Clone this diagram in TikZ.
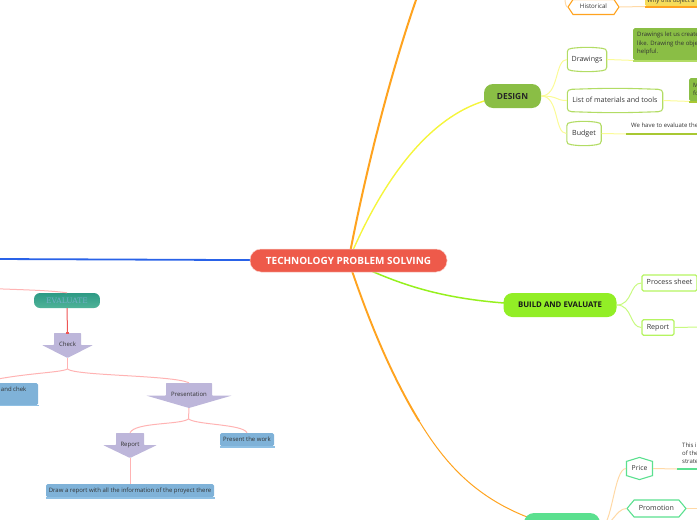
\documentclass[tikz,border=0pt]{standalone}
\usepackage{fontspec}
\setmainfont{Open Sans}
\newfontfamily\slabfont{DejaVu Serif}
\usetikzlibrary{calc,backgrounds,shapes.symbols}
\definecolor{rootred}{HTML}{EE5A4A}
\definecolor{rootedge}{HTML}{F9CFC8}
\definecolor{linkblue}{HTML}{2962E8}
\definecolor{linkorange}{HTML}{FFA31F}
\definecolor{linkyellow}{HTML}{F5F53C}
\definecolor{linkgreen}{HTML}{96F01E}
\definecolor{designfill}{HTML}{8ABE45}
\definecolor{buildfill}{HTML}{92EE26}
\definecolor{minty}{HTML}{5BE08F}
\definecolor{paleyellow}{HTML}{FBFB96}
\definecolor{palegreen}{HTML}{C8FA80}
\definecolor{paleorange}{HTML}{FFD9A6}
\definecolor{pink}{HTML}{FFB3B3}
\definecolor{darkred}{HTML}{EE5555}
\definecolor{lilac}{HTML}{BDB6DA}
\definecolor{skybox}{HTML}{7FB2D8}
\definecolor{skyline}{HTML}{8FC0E4}
\definecolor{olive}{HTML}{A8C832}
\definecolor{bulgeline}{HTML}{B2DC64}
\definecolor{sun}{HTML}{F5DC5A}
\definecolor{ink}{HTML}{333333}
\definecolor{tealtop}{HTML}{2E9A85}
\definecolor{tealbottom}{HTML}{4FB398}
\definecolor{evaltext}{HTML}{72AEC6}
\tikzset{
  pill/.style={rectangle,rounded corners=#1,inner sep=0pt},
  smalltext/.style={font=\fontsize{6}{7}\selectfont,text=ink,inner sep=0pt},
  leaftext/.style={font=\fontsize{7.1}{8}\selectfont,text=ink,inner sep=0pt,text height=5.2pt,text depth=1.6pt},
  freetext/.style={smalltext,anchor=west},
  bulgenode/.style={rectangle,leaftext},
  greenrect/.style={rectangle,rounded corners=1.5pt,draw=#1,line width=1.1pt,leaftext},
  hexnode/.style={signal,draw=#1,line width=1.1pt,leaftext},
  notebox/.style={rectangle,rounded corners=1.5pt,fill=#1,smalltext},
  downarrow/.style n args={3}{rectangle,inner sep=0pt,smalltext,text height=5pt,text depth=4pt,
    path picture={\fill[lilac,rounded corners=.6pt]
      ($(path picture bounding box.north)+(-#1,0)$) -- ($(path picture bounding box.north)+(#1,0)$)
      -- ($(path picture bounding box.north)+(#1,#2)$) -- ($(path picture bounding box.north)+(#3,#2)$)
      -- (path picture bounding box.south)
      -- ($(path picture bounding box.north)+(-#3,#2)$) -- ($(path picture bounding box.north)+(-#1,#2)$) -- cycle;}},
  yellowlink/.style={paleyellow,line width=1pt},
  greenlink/.style={palegreen,line width=1pt},
  orangelink/.style={paleorange,line width=1pt},
  pinklink/.style={pink,line width=1pt},
  underline/.style={line width=1.2pt,draw=#1}
}
\newcommand{\bulgeoutline}[1]{%
  \draw[bulgeline,line width=1.1pt]
    ($(#1.north west)+(.5,5)$) .. controls ($(#1.north west)+(.5,2.5)$) and ($(#1.north west)+(2,2)$) .. ($(#1.north west)+(5,1.5)$)
    .. controls ($(#1.north)+(-4,.2)$) and ($(#1.north)+(4,.2)$) .. ($(#1.north east)+(-5,1.5)$)
    .. controls ($(#1.north east)+(-2,2)$) and ($(#1.north east)+(-.5,2.5)$) .. ($(#1.north east)+(-.5,5)$)
    -- ($(#1.south east)+(-.5,-5)$)
    .. controls ($(#1.south east)+(-.5,-2.5)$) and ($(#1.south east)+(-2,-2)$) .. ($(#1.south east)+(-5,-1.5)$)
    .. controls ($(#1.south)+(4,-.2)$) and ($(#1.south)+(-4,-.2)$) .. ($(#1.south west)+(5,-1.5)$)
    .. controls ($(#1.south west)+(2,-2)$) and ($(#1.south west)+(.5,-2.5)$) .. ($(#1.south west)+(.5,-5)$)
    -- cycle;}
\begin{document}
\begin{tikzpicture}[x=1pt,y=-1pt]
\useasboundingbox (0,0) rectangle (697,520);
% main nodes
\node[pill=11pt,fill=rootred,draw=rootedge,line width=.5pt,minimum width=197,minimum height=23,text=white,font=\fontsize{9.95}{11}\selectfont\bfseries] (root) at (348.5,260.5) {TECHNOLOGY PROBLEM SOLVING};
\node[pill=9pt,fill=designfill,minimum width=57,minimum height=24,text=black!85,font=\fontsize{8.4}{9}\selectfont\bfseries] (design) at (512.5,96) {DESIGN};
\node[pill=9pt,fill=buildfill,minimum width=113,minimum height=24,text=black!90,font=\fontsize{7.8}{9}\selectfont\bfseries] (build) at (560,305) {BUILD AND EVALUATE};
\node[pill=10pt,fill=minty,minimum width=76,minimum height=30] (market) at (562,528) {};
\coordinate (leftend) at (-5,259);
\coordinate (topend) at (416,0);
\coordinate (lowermid) at (419.25,421.25);
% design branch
\node[bulgenode,minimum width=40,minimum height=25] (drawings) at (587,59.5) {Drawings};
\node[bulgenode,minimum width=96,minimum height=25] (list) at (615,100.5) {List of materials and tools};
\node[bulgenode,minimum width=35,minimum height=25] (budget) at (584,133.5) {Budget};
\bulgeoutline{drawings}\bulgeoutline{list}\bulgeoutline{budget}
\node[hexnode=linkorange,signal to=east and west,signal pointer angle=112,minimum width=51,minimum height=15,font=\fontsize{6.2}{8}\selectfont] (historical) at (593.5,7) {Historical};
\node[notebox=sun,minimum width=60,minimum height=17,anchor=south west] (whybox) at (645,6.5) {};
\node[freetext] (whytext) at (647,0.5) {Why this object a};
\node[notebox=designfill,minimum width=70,minimum height=32,anchor=north west] (drawbox) at (633,28) {};
\node[freetext] (draw1) at (637,35) {Drawings let us create};
\node[freetext] (draw2) at (637,43.5) {like. Drawing the obje};
\node[freetext] (draw3) at (637,52) {helpful.};
\node[notebox=designfill,minimum width=18,minimum height=23,anchor=north west] (matbox) at (689,78) {};
\node[freetext] (mat1) at (693,85) {M};
\node[freetext] (mat2) at (693,93) {fo};
\node[freetext] (budgettext) at (631,125.5) {We have to evaluate the};
\coordinate (budgetline) at (626,134);
\coordinate (budgetend) at (700,134);
% build branch
\node[greenrect=linkgreen!70,minimum width=55,minimum height=16] (process) at (669.5,283) {Process sheet};
\node[greenrect=linkgreen!70,minimum width=32,minimum height=15.5] (report) at (658,327.5) {Report};
\coordinate (reportend) at (700,327);
% marketing branch
\node[hexnode=minty,signal to=north and south,signal pointer angle=146,minimum width=26,minimum height=19,font=\fontsize{6.8}{8}\selectfont] (price) at (639.5,468.5) {Price};
\node[hexnode=minty,signal to=east and west,signal pointer angle=100,minimum width=59,minimum height=17] (promotion) at (656.5,508.5) {Promotion};
\node[freetext] (price1) at (682,445) {This i};
\node[freetext] (price2) at (682,453.5) {of the};
\node[freetext] (price3) at (682,462) {strate};
\coordinate (pricemid) at (677,469);
\coordinate (priceend) at (700,469);
\coordinate (promoend) at (700,508.5);
% evaluate branch
\node[pill=6pt,top color=tealtop,bottom color=tealbottom,minimum width=66,minimum height=15,text=evaltext,font=\fontsize{7.5}{8}\slabfont] (evaluate) at (67,300.5) {EVALUATE};
\coordinate (evalend) at (-5,288.7);
\node[downarrow={13.5}{12}{25.5},minimum width=51,minimum height=25] (check) at (67.5,345.5) {Check};
\coordinate (checkfork) at (67.5,369);
\node[notebox=skybox,minimum width=116,minimum height=22] (testbox) at (-20,394) {};
\node[smalltext,anchor=east] (testtext) at (26.5,389) {and chek};
\node[downarrow={23}{12.5}{43},minimum width=86,minimum height=25] (presentation) at (189,395.5) {Presentation};
\coordinate (presentfork) at (188.5,419);
\node[downarrow={14}{12}{27},minimum width=54,minimum height=25] (reportarrow) at (130,445.5) {Report};
\node[notebox=skybox,minimum width=54,minimum height=13] (presentwork) at (247,439.5) {Present the work};
\node[notebox=skybox,minimum width=168,minimum height=13] (drawreport) at (130,490.5) {Draw a report with all the information of the proyect there};
% underlines
\draw[underline=skyline] (testbox.south west) ++(0,.6) -- ($(testbox.south east)+(.8,.6)$);
\draw[underline=skyline] (presentwork.south west) ++(0,.8) -- ($(presentwork.south east)+(.5,.8)$);
\draw[underline=skyline] (drawreport.south west) ++(0,.8) -- ($(drawreport.south east)+(.5,.8)$);
\draw[underline=linkorange] (whybox.south west) ++(0,.4) -- ($(whybox.south east)+(0,.4)$);
\draw[underline=bulgeline] (drawbox.south west) ++(0,.5) -- ($(drawbox.south east)+(0,.5)$);
\draw[underline=olive] (matbox.south west) ++(0,.5) -- ($(matbox.south east)+(0,.5)$);
\draw[underline=olive] (budgetline) -- (budgetend);
\draw[underline=minty] (pricemid) -- (priceend);
% connectors
\begin{pgfonlayer}{background}
\draw[linkblue,line width=1.8pt] (root.center) -- (leftend);
\draw[linkorange,line width=2pt] (root.center) .. controls (362,190) and (385,90) .. (topend) -- ++(4,-12);
\draw[linkorange,line width=1.9pt] (root.center) .. controls (367,316) and (389.75,373) .. (lowermid);
\draw[linkorange,line width=1pt] (lowermid) .. controls (448.75,469.5) and (485,509) .. (market.center);
\draw[linkyellow,line width=1.4pt] (root.center) .. controls (372,205) and (425,100) .. (design.center);
\draw[linkgreen,line width=1.5pt] (root.center) .. controls (400,285) and (450,305) .. (build.center);
\end{pgfonlayer}
\draw[yellowlink] (design.east) .. controls +(18,0) and +(-12,0) .. (drawings.west);
\draw[yellowlink] (design.east) .. controls +(18,0) and +(-12,0) .. (list.west);
\draw[yellowlink] (design.east) .. controls +(18,0) and +(-12,0) .. (budget.west);
\draw[yellowlink] (drawings.east) -- (drawbox.south west);
\draw[yellowlink] (list.east) -- (matbox.south west);
\draw[yellowlink] (budget.east) -- (budgetline);
\draw[orangelink] (historical.east) -- (whybox.south west);
\draw[orangelink] (historical.west) .. controls +(-2,-1) and +(0,3) .. (565,-2);
\draw[greenlink] (build.east) .. controls +(16,0) and +(-12,0) .. (process.west);
\draw[greenlink] (build.east) .. controls +(16,0) and +(-12,0) .. (report.west);
\draw[greenlink] (report.east) -- (reportend);
\draw[orangelink] (market.east) .. controls +(12,0) and +(-12,0) .. (price.west);
\draw[orangelink] (market.east) .. controls +(10,0) and +(-10,0) .. (promotion.west);
\draw[orangelink] (price.east) -- (pricemid);
\draw[orangelink] (promotion.east) -- (promoend);
\draw[pinklink] (evaluate.north) .. controls (50,290.5) and (30,290) .. (evalend);
\draw[darkred,line width=1pt] (evaluate.south) -- (check.north);
\fill[darkred] (65.6,331.5) rectangle (69,333.5);
\draw[pinklink] (check.south) -- (checkfork);
\draw[pinklink] (checkfork) .. controls (60,373) and (20,373) .. (testbox.north);
\draw[pinklink] (checkfork) .. controls (76,376) and (172,375) .. (presentation.north);
\draw[pinklink] (presentation.south) -- (presentfork);
\draw[pinklink] (presentfork) .. controls (180,425) and (135,422) .. (reportarrow.north);
\draw[pinklink] (presentfork) .. controls (197,425) and (243,424) .. (presentwork.north);
\draw[pinklink] (reportarrow.south) -- (drawreport.north);
\end{tikzpicture}
\end{document}
